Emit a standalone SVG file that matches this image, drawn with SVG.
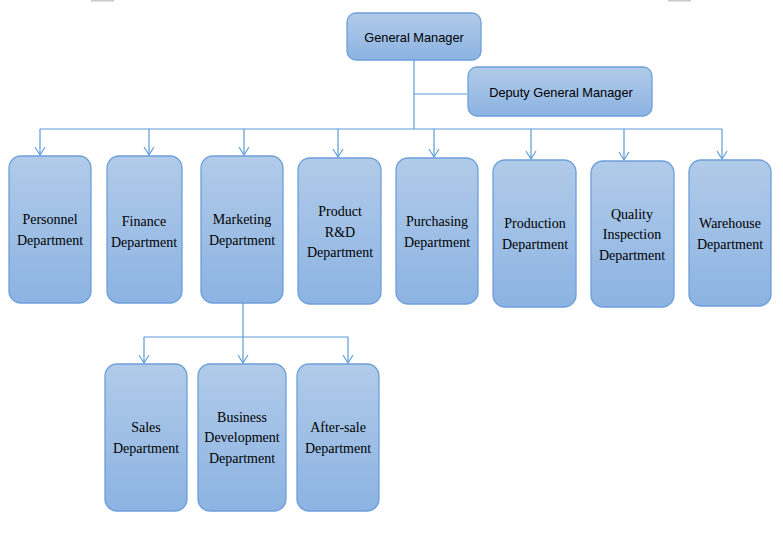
<svg xmlns="http://www.w3.org/2000/svg" width="783" height="534" viewBox="0 0 783 534">
<defs>
<linearGradient id="g" x1="0" y1="0" x2="0" y2="1">
<stop offset="0" stop-color="#b1cbe9"/>
<stop offset="1" stop-color="#8cb3e2"/>
</linearGradient>
<marker id="arr" viewBox="0 0 12 10" refX="6" refY="9" markerWidth="12" markerHeight="10" markerUnits="userSpaceOnUse" orient="0">
<path d="M1,1 L6,9 L11,1" fill="none" stroke="#5b9bd5" stroke-width="1.1"/>
</marker>
<style>
.box{fill:url(#g);stroke:#6d9fda;stroke-width:1.3}
.t{font-family:"Liberation Serif","Times New Roman",serif;font-size:14px;fill:#000;text-anchor:middle}
.s{font-family:"Liberation Sans",Arial,sans-serif;font-size:12.8px;fill:#000;text-anchor:middle}
.c{fill:none;stroke:#5b9bd5;stroke-width:1.2}
.a{fill:none;stroke:#5b9bd5;stroke-width:1.2;marker-end:url(#arr)}
</style>
</defs>
<rect width="783" height="534" fill="#fff"/>
<rect x="91" y="0" width="23" height="1.5" fill="#c8c8c8"/>
<rect x="668" y="0" width="23" height="1.5" fill="#c8c8c8"/>
<g id="connectors">
<path class="c" d="M414,60 V129"/>
<path class="c" d="M414,94 H467"/>
<path class="c" d="M40,129 H722"/>
<path class="a" d="M40,129 V155"/>
<path class="a" d="M149,129 V155"/>
<path class="a" d="M244,129 V155"/>
<path class="a" d="M338,129 V157"/>
<path class="a" d="M434,129 V157"/>
<path class="a" d="M531,129 V159"/>
<path class="a" d="M624,129 V160"/>
<path class="a" d="M722,129 V159"/>
<path class="c" d="M243,303 V337"/>
<path class="c" d="M144,337 H348"/>
<path class="a" d="M144,337 V363"/>
<path class="a" d="M243,337 V363"/>
<path class="a" d="M348,337 V363"/>
</g>
<g id="gm"><rect class="box" x="347" y="13" width="134" height="47" rx="9"/><text class="s" x="414" y="42">General Manager</text></g>
<g id="dgm"><rect class="box" x="468" y="67" width="184" height="49" rx="9"/><text class="s" x="561" y="97">Deputy General Manager</text></g>
<g id="personnel"><rect class="box" x="9" y="156" width="82" height="147" rx="12"/><text class="t" x="50" y="224">Personnel</text><text class="t" x="50" y="245">Department</text></g>
<g id="finance"><rect class="box" x="107" y="156" width="75" height="147" rx="12"/><text class="t" x="144" y="226">Finance</text><text class="t" x="144" y="247">Department</text></g>
<g id="marketing"><rect class="box" x="201" y="156" width="82" height="147" rx="12"/><text class="t" x="242" y="224">Marketing</text><text class="t" x="242" y="245">Department</text></g>
<g id="rnd"><rect class="box" x="298" y="158" width="83" height="146" rx="12"/><text class="t" x="340" y="216">Product</text><text class="t" x="340" y="237">R&amp;D</text><text class="t" x="340" y="257">Department</text></g>
<g id="purchasing"><rect class="box" x="396" y="158" width="82" height="146" rx="12"/><text class="t" x="437" y="226">Purchasing</text><text class="t" x="437" y="247">Department</text></g>
<g id="production"><rect class="box" x="493" y="160" width="83" height="147" rx="12"/><text class="t" x="535" y="228">Production</text><text class="t" x="535" y="249">Department</text></g>
<g id="quality"><rect class="box" x="591" y="161" width="83" height="146" rx="12"/><text class="t" x="632" y="219">Quality</text><text class="t" x="632" y="239">Inspection</text><text class="t" x="632" y="260">Department</text></g>
<g id="warehouse"><rect class="box" x="689" y="160" width="82" height="146" rx="12"/><text class="t" x="730" y="228">Warehouse</text><text class="t" x="730" y="249">Department</text></g>
<g id="sales"><rect class="box" x="105" y="364" width="82" height="147" rx="12"/><text class="t" x="146" y="432">Sales</text><text class="t" x="146" y="453">Department</text></g>
<g id="bizdev"><rect class="box" x="198" y="364" width="88" height="147" rx="12"/><text class="t" x="242" y="422">Business</text><text class="t" x="242" y="442">Development</text><text class="t" x="242" y="463">Department</text></g>
<g id="aftersale"><rect class="box" x="297" y="364" width="82" height="147" rx="12"/><text class="t" x="338" y="432">After-sale</text><text class="t" x="338" y="453">Department</text></g>
</svg>
